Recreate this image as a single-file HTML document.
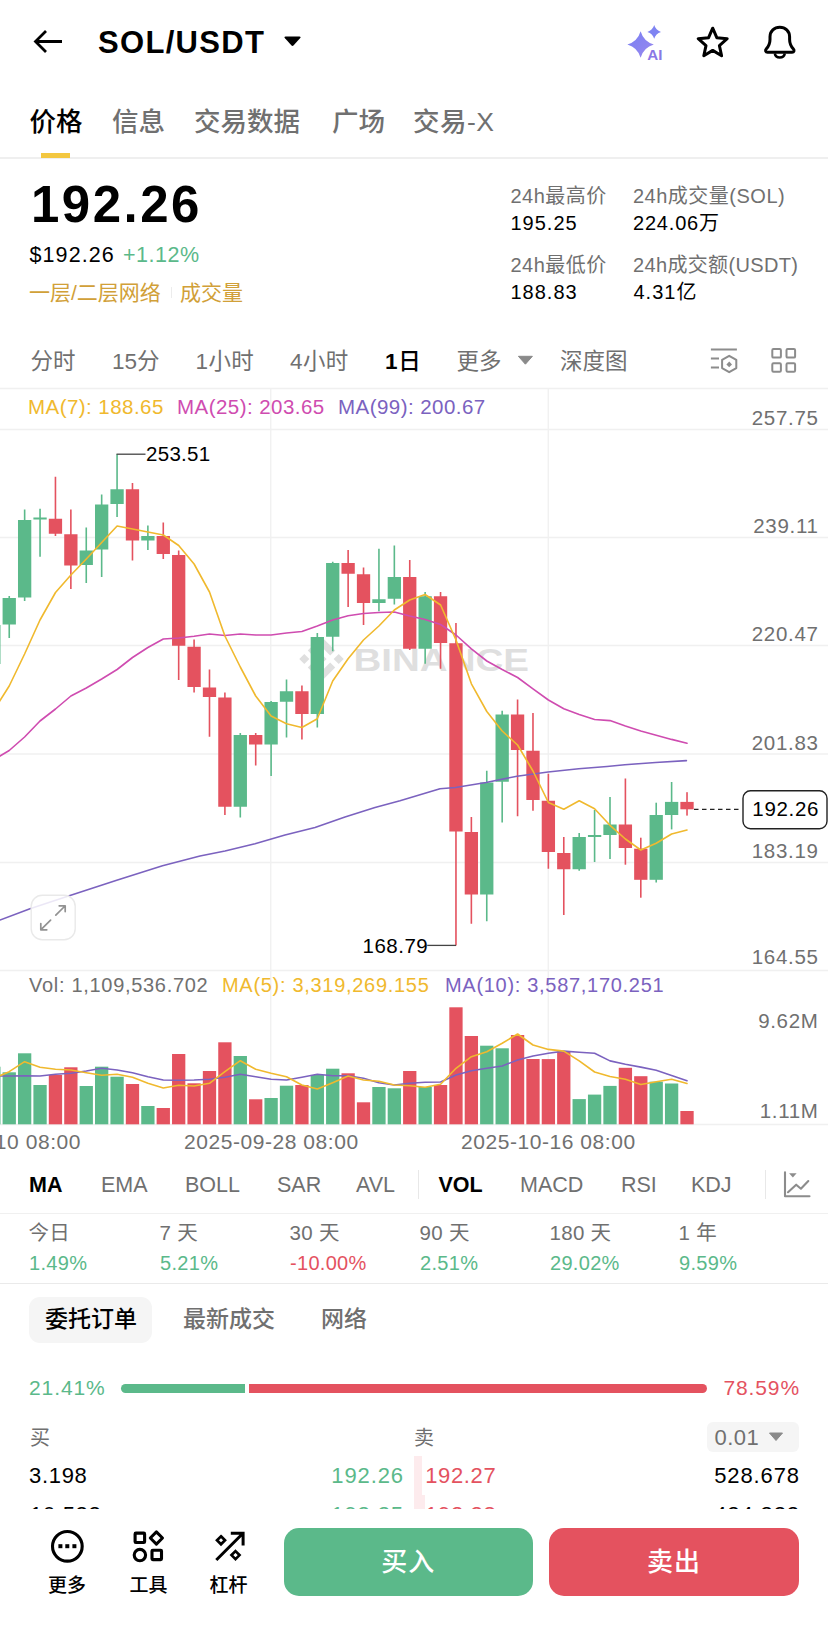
<!DOCTYPE html>
<html lang="zh-CN"><head><meta charset="utf-8"><title>SOL/USDT</title>
<style>
html,body{margin:0;padding:0;background:#fff;}
body{width:828px;height:1637px;position:relative;overflow:hidden;font-family:"Liberation Sans","Noto Sans CJK SC",sans-serif;}
.t{position:absolute;white-space:nowrap;line-height:1.2;}
.a{position:absolute;}
</style></head><body>
<div class="a" style="left:0;top:157px;width:828px;height:1.5px;background:#efefef"></div>
<div class="a" style="left:41px;top:152.5px;width:29px;height:5px;background:#f3c740"></div>
<div class="a" style="left:171px;top:287px;width:1.3px;height:11px;background:#ececec"></div>
<div class="a" style="left:29px;top:1296.5px;width:122.5px;height:46px;border-radius:11px;background:#f5f5f5"></div>
<div class="a" style="left:706.5px;top:1421.5px;width:92.5px;height:30px;border-radius:6px;background:#f5f5f5"></div>
<div class="a" style="left:0;top:1212.6px;width:828px;height:1.4px;background:#f0f0f0"></div>
<div class="a" style="left:0;top:1282.6px;width:828px;height:1.5px;background:#eaeaea"></div>
<div class="a" style="left:417.5px;top:1170px;width:1.3px;height:28.5px;background:#e8e8e8"></div>
<div class="a" style="left:764.5px;top:1170px;width:1.3px;height:28.5px;background:#e8e8e8"></div>
<div class="a" style="left:121px;top:1384px;width:124px;height:8.500px;border-radius:4.500px 0 0 4.500px;background:#5bb98a"></div>
<div class="a" style="left:249px;top:1384px;width:457.5px;height:8.500px;border-radius:0 4.500px 4.500px 0;background:#e4525f"></div>
<div class="a" style="left:414.3px;top:1456px;width:8px;height:38.5px;background:#fdebed"></div>
<div class="a" style="left:414.3px;top:1494.5px;width:10.5px;height:20px;background:#fdebed"></div>
<svg id="chart" width="828" height="1637" viewBox="0 0 828 1637" style="position:absolute;left:0;top:0"><line x1="0" x2="828" y1="388.5" y2="388.5" stroke="#f0f0f0" stroke-width="1.3"/><line x1="0" x2="828" y1="429.5" y2="429.5" stroke="#f0f0f0" stroke-width="1.3"/><line x1="0" x2="828" y1="537.5" y2="537.5" stroke="#f0f0f0" stroke-width="1.3"/><line x1="0" x2="828" y1="645.5" y2="645.5" stroke="#f0f0f0" stroke-width="1.3"/><line x1="0" x2="828" y1="754" y2="754" stroke="#f0f0f0" stroke-width="1.3"/><line x1="0" x2="828" y1="862.5" y2="862.5" stroke="#f0f0f0" stroke-width="1.3"/><line x1="0" x2="828" y1="970.5" y2="970.5" stroke="#f0f0f0" stroke-width="1.3"/><line x1="0" x2="828" y1="1124.5" y2="1124.5" stroke="#f0f0f0" stroke-width="1.3"/><line x1="270.75" x2="270.75" y1="388.5" y2="1124.5" stroke="#f0f0f0" stroke-width="1.3"/><line x1="548.25" x2="548.25" y1="388.5" y2="1124.5" stroke="#f0f0f0" stroke-width="1.3"/><g fill="#dfdfdf" id="wm"><g transform="translate(321.5,659) scale(0.357) translate(-63,-63)"><path d="M38.7,53.2 L63,28.9 L87.3,53.2 L101.4,39.1 L63,0.7 L24.6,39.1Z M0.7,63 L14.8,48.9 L28.9,63 L14.8,77.100Z M38.7,72.8 L63,97.100 L87.3,72.8 L101.4,86.9 L63,125.3 L24.6,86.9Z M97.100,63 L111.2,48.9 L125.3,63 L111.2,77.100Z M77.3,63 L63,48.7 L48.7,63 L63,77.3Z"/></g><text x="353.5" y="671" font-family="Liberation Sans, sans-serif" font-weight="700" font-size="31.500" textLength="175.500" lengthAdjust="spacingAndGlyphs">BINANCE</text></g><rect x="-6.96" y="600" width="1.6" height="70.00" fill="#5bb98a"/><rect x="-12.81" y="625" width="13.3" height="39.00" fill="#5bb98a"/><rect x="8.44" y="596" width="1.6" height="42.00" fill="#5bb98a"/><rect x="2.59" y="598" width="13.3" height="26.50" fill="#5bb98a"/><rect x="23.84" y="509.5" width="1.6" height="91.50" fill="#5bb98a"/><rect x="17.99" y="520" width="13.3" height="77.50" fill="#5bb98a"/><rect x="39.25" y="508.75" width="1.6" height="48.00" fill="#5bb98a"/><rect x="33.40" y="517.5" width="13.3" height="2.00" fill="#5bb98a"/><rect x="54.65" y="476.75" width="1.6" height="59.25" fill="#e4525f"/><rect x="48.80" y="518.75" width="13.3" height="15.00" fill="#e4525f"/><rect x="70.06" y="509.5" width="1.6" height="79.50" fill="#e4525f"/><rect x="64.21" y="534.25" width="13.3" height="31.25" fill="#e4525f"/><rect x="85.46" y="527.5" width="1.6" height="55.50" fill="#5bb98a"/><rect x="79.61" y="550.5" width="13.3" height="14.50" fill="#5bb98a"/><rect x="100.86" y="494.5" width="1.6" height="82.50" fill="#5bb98a"/><rect x="95.01" y="504.5" width="13.3" height="45.00" fill="#5bb98a"/><rect x="116.27" y="454.25" width="1.6" height="62.75" fill="#5bb98a"/><rect x="110.42" y="489.25" width="13.3" height="14.75" fill="#5bb98a"/><rect x="131.67" y="483" width="1.6" height="77.50" fill="#e4525f"/><rect x="125.82" y="489.25" width="13.3" height="51.25" fill="#e4525f"/><rect x="147.08" y="525.5" width="1.6" height="24.50" fill="#5bb98a"/><rect x="141.23" y="536" width="13.3" height="4.50" fill="#5bb98a"/><rect x="162.48" y="522.5" width="1.6" height="36.50" fill="#e4525f"/><rect x="156.63" y="536" width="13.3" height="18.00" fill="#e4525f"/><rect x="177.88" y="550.5" width="1.6" height="129.50" fill="#e4525f"/><rect x="172.03" y="555" width="13.3" height="90.75" fill="#e4525f"/><rect x="193.29" y="639.5" width="1.6" height="53.00" fill="#e4525f"/><rect x="187.44" y="646.75" width="13.3" height="40.25" fill="#e4525f"/><rect x="208.69" y="669.5" width="1.6" height="67.25" fill="#e4525f"/><rect x="202.84" y="687.5" width="13.3" height="9.50" fill="#e4525f"/><rect x="224.10" y="692.5" width="1.6" height="122.50" fill="#e4525f"/><rect x="218.25" y="697.5" width="13.3" height="109.25" fill="#e4525f"/><rect x="239.50" y="733" width="1.6" height="84.50" fill="#5bb98a"/><rect x="233.65" y="735" width="13.3" height="71.75" fill="#5bb98a"/><rect x="254.90" y="733" width="1.6" height="32.50" fill="#e4525f"/><rect x="249.05" y="735" width="13.3" height="9.50" fill="#e4525f"/><rect x="270.31" y="701" width="1.6" height="75.00" fill="#5bb98a"/><rect x="264.46" y="702" width="13.3" height="42.50" fill="#5bb98a"/><rect x="285.71" y="679.5" width="1.6" height="58.00" fill="#5bb98a"/><rect x="279.86" y="691.25" width="13.3" height="10.50" fill="#5bb98a"/><rect x="301.12" y="685.5" width="1.6" height="54.00" fill="#e4525f"/><rect x="295.27" y="691.25" width="13.3" height="22.75" fill="#e4525f"/><rect x="316.52" y="633" width="1.6" height="94.50" fill="#5bb98a"/><rect x="310.67" y="637" width="13.3" height="77.00" fill="#5bb98a"/><rect x="331.92" y="561.75" width="1.6" height="89.50" fill="#5bb98a"/><rect x="326.07" y="563" width="13.3" height="73.75" fill="#5bb98a"/><rect x="347.33" y="550" width="1.6" height="57.00" fill="#e4525f"/><rect x="341.48" y="563" width="13.3" height="10.75" fill="#e4525f"/><rect x="362.73" y="567.5" width="1.6" height="57.50" fill="#e4525f"/><rect x="356.88" y="574.25" width="13.3" height="28.75" fill="#e4525f"/><rect x="378.14" y="548.75" width="1.6" height="62.50" fill="#5bb98a"/><rect x="372.29" y="599.25" width="13.3" height="3.75" fill="#5bb98a"/><rect x="393.54" y="545.5" width="1.6" height="59.00" fill="#5bb98a"/><rect x="387.69" y="577" width="13.3" height="21.75" fill="#5bb98a"/><rect x="408.94" y="560" width="1.6" height="90.00" fill="#e4525f"/><rect x="403.09" y="577" width="13.3" height="71.75" fill="#e4525f"/><rect x="424.35" y="592" width="1.6" height="71.75" fill="#5bb98a"/><rect x="418.50" y="596.25" width="13.3" height="52.50" fill="#5bb98a"/><rect x="439.75" y="592" width="1.6" height="76.75" fill="#e4525f"/><rect x="433.90" y="596.25" width="13.3" height="46.75" fill="#e4525f"/><rect x="455.16" y="623" width="1.6" height="322.50" fill="#e4525f"/><rect x="449.31" y="643.25" width="13.3" height="188.25" fill="#e4525f"/><rect x="470.56" y="817" width="1.6" height="106.75" fill="#e4525f"/><rect x="464.71" y="832" width="13.3" height="62.50" fill="#e4525f"/><rect x="485.96" y="770.75" width="1.6" height="150.50" fill="#5bb98a"/><rect x="480.11" y="782.5" width="13.3" height="112.00" fill="#5bb98a"/><rect x="501.37" y="710.75" width="1.6" height="111.75" fill="#5bb98a"/><rect x="495.52" y="714.5" width="13.3" height="67.25" fill="#5bb98a"/><rect x="516.77" y="699.5" width="1.6" height="116.75" fill="#e4525f"/><rect x="510.92" y="714.5" width="13.3" height="35.50" fill="#e4525f"/><rect x="532.18" y="713" width="1.6" height="97.75" fill="#e4525f"/><rect x="526.33" y="750.75" width="13.3" height="49.25" fill="#e4525f"/><rect x="547.58" y="773.75" width="1.6" height="95.00" fill="#e4525f"/><rect x="541.73" y="800.75" width="13.3" height="51.25" fill="#e4525f"/><rect x="562.98" y="837" width="1.6" height="78.00" fill="#e4525f"/><rect x="557.13" y="853" width="13.3" height="16.25" fill="#e4525f"/><rect x="578.39" y="833" width="1.6" height="37.75" fill="#5bb98a"/><rect x="572.54" y="837" width="13.3" height="32.25" fill="#5bb98a"/><rect x="593.79" y="810" width="1.6" height="52.00" fill="#5bb98a"/><rect x="587.94" y="835" width="13.3" height="2.00" fill="#5bb98a"/><rect x="609.20" y="797" width="1.6" height="62.00" fill="#5bb98a"/><rect x="603.35" y="824.5" width="13.3" height="10.50" fill="#5bb98a"/><rect x="624.60" y="778.5" width="1.6" height="86.20" fill="#e4525f"/><rect x="618.75" y="824.5" width="13.3" height="23.50" fill="#e4525f"/><rect x="640.00" y="837.7" width="1.6" height="60.00" fill="#e4525f"/><rect x="634.15" y="848.7" width="13.3" height="31.10" fill="#e4525f"/><rect x="655.41" y="802.7" width="1.6" height="79.80" fill="#5bb98a"/><rect x="649.56" y="815" width="13.3" height="64.80" fill="#5bb98a"/><rect x="670.81" y="782" width="1.6" height="47.40" fill="#5bb98a"/><rect x="664.96" y="801.9" width="13.3" height="13.10" fill="#5bb98a"/><rect x="686.22" y="792.2" width="1.6" height="23.40" fill="#e4525f"/><rect x="680.37" y="801.9" width="13.3" height="7.40" fill="#e4525f"/><polyline points="-6.0,922.0 0.0,920.0 30.0,908.8 70.0,895.5 117.5,880.0 162.5,865.8 200.0,856.0 225.0,851.0 255.0,843.8 285.0,835.0 315.0,827.5 345.0,817.0 375.0,807.5 400.0,800.8 440.0,788.8 455.5,787.5 486.0,782.5 517.0,776.2 548.0,772.0 578.7,768.8 607.0,766.5 624.8,764.7 655.6,762.5 686.4,760.6" fill="none" stroke="#7b62bf" stroke-width="1.6" stroke-linejoin="round" stroke-linecap="round"/><polyline points="-6.1,760.0 0.0,756.0 9.2,750.5 24.6,737.0 40.0,721.0 55.5,709.0 70.9,696.0 86.3,688.0 101.7,679.0 117.1,669.5 132.5,657.5 147.9,647.5 163.3,639.0 178.7,638.0 194.1,636.2 209.5,634.0 224.9,635.5 240.3,634.0 255.7,635.0 271.1,635.0 286.5,633.0 301.9,631.5 317.3,626.0 332.7,620.0 348.1,615.8 363.5,613.5 378.9,612.5 394.3,612.0 409.7,616.0 425.1,619.5 440.6,624.5 456.0,635.0 471.4,648.8 486.8,661.0 502.2,669.5 517.6,677.5 533.0,688.8 548.4,700.0 563.8,708.8 579.2,714.5 594.6,719.5 610.0,720.6 625.4,726.0 640.8,731.0 656.2,735.2 671.6,739.4 687.0,743.2" fill="none" stroke="#cf4cb0" stroke-width="1.6" stroke-linejoin="round" stroke-linecap="round"/><polyline points="-6.1,713.0 0.0,700.5 9.2,686.0 24.6,654.0 40.0,620.0 55.5,592.5 70.9,575.0 86.3,559.0 101.7,542.5 117.1,526.0 132.5,529.0 147.9,532.0 163.3,535.0 178.7,545.5 194.1,564.0 209.5,592.0 224.9,636.0 240.3,667.0 255.7,696.0 271.1,716.0 286.5,723.8 301.9,727.5 317.3,718.8 332.7,681.0 348.1,658.8 363.5,640.0 378.9,626.0 394.3,610.0 409.7,600.0 425.1,594.5 440.6,605.0 456.0,640.0 471.4,683.8 486.8,711.5 502.2,731.0 517.6,745.0 533.0,771.0 548.4,802.5 563.8,809.2 579.2,800.8 594.6,808.8 610.0,825.3 625.4,839.0 640.8,850.0 656.2,843.2 671.6,834.0 687.0,830.0" fill="none" stroke="#f0b92e" stroke-width="1.6" stroke-linejoin="round" stroke-linecap="round"/><line x1="116.5" x2="145.5" y1="454.2" y2="454.2" stroke="#444" stroke-width="1.3"/><line x1="427.2" x2="456" y1="945.4" y2="945.4" stroke="#444" stroke-width="1.3"/><line x1="694" x2="742" y1="809.3" y2="809.3" stroke="#222" stroke-width="1.3" stroke-dasharray="4.5,3.5"/><rect x="743" y="790.8" width="84" height="38" rx="7.5" fill="#fff" stroke="#222" stroke-width="1.4"/><rect x="-12.81" y="1066.7" width="13.3" height="57.60" fill="#5bb98a"/><rect x="2.59" y="1072.3" width="13.3" height="52.00" fill="#5bb98a"/><rect x="17.99" y="1053.3" width="13.3" height="71.00" fill="#5bb98a"/><rect x="33.40" y="1085" width="13.3" height="39.30" fill="#5bb98a"/><rect x="48.80" y="1075" width="13.3" height="49.30" fill="#e4525f"/><rect x="64.21" y="1067.3" width="13.3" height="57.00" fill="#e4525f"/><rect x="79.61" y="1086" width="13.3" height="38.30" fill="#5bb98a"/><rect x="95.01" y="1066.7" width="13.3" height="57.60" fill="#5bb98a"/><rect x="110.42" y="1076.7" width="13.3" height="47.60" fill="#5bb98a"/><rect x="125.82" y="1084" width="13.3" height="40.30" fill="#e4525f"/><rect x="141.23" y="1106" width="13.3" height="18.30" fill="#5bb98a"/><rect x="156.63" y="1108" width="13.3" height="16.30" fill="#e4525f"/><rect x="172.03" y="1054" width="13.3" height="70.30" fill="#e4525f"/><rect x="187.44" y="1083.3" width="13.3" height="41.00" fill="#e4525f"/><rect x="202.84" y="1071" width="13.3" height="53.30" fill="#e4525f"/><rect x="218.25" y="1042.3" width="13.3" height="82.00" fill="#e4525f"/><rect x="233.65" y="1056" width="13.3" height="68.30" fill="#5bb98a"/><rect x="249.05" y="1099.3" width="13.3" height="25.00" fill="#e4525f"/><rect x="264.46" y="1098" width="13.3" height="26.30" fill="#5bb98a"/><rect x="279.86" y="1085.7" width="13.3" height="38.60" fill="#5bb98a"/><rect x="295.27" y="1085" width="13.3" height="39.30" fill="#e4525f"/><rect x="310.67" y="1075" width="13.3" height="49.30" fill="#5bb98a"/><rect x="326.07" y="1068.7" width="13.3" height="55.60" fill="#5bb98a"/><rect x="341.48" y="1073.3" width="13.3" height="51.00" fill="#e4525f"/><rect x="356.88" y="1102.3" width="13.3" height="22.00" fill="#e4525f"/><rect x="372.29" y="1087" width="13.3" height="37.30" fill="#5bb98a"/><rect x="387.69" y="1088.3" width="13.3" height="36.00" fill="#5bb98a"/><rect x="403.09" y="1071" width="13.3" height="53.30" fill="#e4525f"/><rect x="418.50" y="1087" width="13.3" height="37.30" fill="#5bb98a"/><rect x="433.90" y="1085" width="13.3" height="39.30" fill="#e4525f"/><rect x="449.31" y="1007.3" width="13.3" height="117.00" fill="#e4525f"/><rect x="464.71" y="1036" width="13.3" height="88.30" fill="#e4525f"/><rect x="480.11" y="1045.7" width="13.3" height="78.60" fill="#5bb98a"/><rect x="495.52" y="1048.3" width="13.3" height="76.00" fill="#5bb98a"/><rect x="510.92" y="1035" width="13.3" height="89.30" fill="#e4525f"/><rect x="526.33" y="1059" width="13.3" height="65.30" fill="#e4525f"/><rect x="541.73" y="1059.1" width="13.3" height="65.20" fill="#e4525f"/><rect x="557.13" y="1051.5" width="13.3" height="72.80" fill="#e4525f"/><rect x="572.54" y="1099.1" width="13.3" height="25.20" fill="#5bb98a"/><rect x="587.94" y="1094.6" width="13.3" height="29.70" fill="#5bb98a"/><rect x="603.35" y="1085.9" width="13.3" height="38.40" fill="#5bb98a"/><rect x="618.75" y="1067.8" width="13.3" height="56.50" fill="#e4525f"/><rect x="634.15" y="1076.2" width="13.3" height="48.10" fill="#e4525f"/><rect x="649.56" y="1081.7" width="13.3" height="42.60" fill="#5bb98a"/><rect x="664.96" y="1083.5" width="13.3" height="40.80" fill="#5bb98a"/><rect x="680.37" y="1111" width="13.3" height="13.30" fill="#e4525f"/><polyline points="-6.1,1076.0 0.0,1076.0 9.2,1076.0 24.6,1075.7 40.0,1076.0 55.5,1074.3 70.9,1073.3 86.3,1071.0 101.7,1068.3 117.1,1070.0 132.5,1072.7 147.9,1076.7 163.3,1080.0 178.7,1080.3 194.1,1080.0 209.5,1079.3 224.9,1077.3 240.3,1074.3 255.7,1076.7 271.1,1079.3 286.5,1080.0 301.9,1077.3 317.3,1074.3 332.7,1075.7 348.1,1075.7 363.5,1078.3 378.9,1082.7 394.3,1085.0 409.7,1083.3 425.1,1082.3 440.6,1082.0 456.0,1075.0 471.4,1070.7 486.8,1068.3 502.2,1066.0 517.6,1060.0 533.0,1056.0 548.4,1053.2 563.8,1051.1 579.2,1052.2 594.6,1053.2 610.0,1060.9 625.4,1064.3 640.8,1067.1 656.2,1070.3 671.6,1075.5 687.0,1080.7" fill="none" stroke="#7b62bf" stroke-width="1.6" stroke-linejoin="round" stroke-linecap="round"/><polyline points="-6.1,1077.0 0.0,1075.7 9.2,1071.7 24.6,1061.7 40.0,1067.3 55.5,1069.3 70.9,1070.0 86.3,1072.7 101.7,1075.3 117.1,1074.3 132.5,1077.3 147.9,1083.3 163.3,1088.0 178.7,1085.3 194.1,1086.0 209.5,1083.3 224.9,1071.7 240.3,1060.7 255.7,1069.3 271.1,1073.3 286.5,1076.7 301.9,1085.0 317.3,1089.0 332.7,1082.7 348.1,1076.0 363.5,1080.0 378.9,1081.3 394.3,1085.0 409.7,1085.7 425.1,1087.3 440.6,1084.3 456.0,1068.3 471.4,1056.7 486.8,1051.7 502.2,1043.3 517.6,1034.0 533.0,1045.0 548.4,1049.4 563.8,1051.1 579.2,1060.9 594.6,1072.0 610.0,1076.5 625.4,1079.3 640.8,1084.5 656.2,1081.7 671.6,1079.3 687.0,1083.5" fill="none" stroke="#f0b92e" stroke-width="1.6" stroke-linejoin="round" stroke-linecap="round"/><rect x="31.2" y="895.2" width="44" height="44.6" rx="11" fill="#fff" fill-opacity="0.85" stroke="#e9e9e9" stroke-width="1.4"/><g stroke="#929292" stroke-width="1.7" fill="none" stroke-linecap="round" stroke-linejoin="round"><path d="M55.8,915.2 L65,906 M59.200,905.800 H65.200 V911.600 M50.600,920.200 L41,929.600 M40.800,923.600 V929.800 H46.800"/></g></svg>
<svg class="a" style="left:0;top:0" width="828" height="1637" viewBox="0 0 828 1637">
<path d="M62,41.500 H35.500 M46,31 L35.500,41.500 L46,52" fill="none" stroke="#000" stroke-width="2.8" stroke-linecap="butt" stroke-linejoin="miter"/>
<path d="M285.500,36.500 H299.500 Q301.500,36.500 300,38.300 L293.700,45.300 Q292.500,46.500 291.300,45.300 L285,38.300 Q283.500,36.500 285.500,36.500Z" fill="#000"/>
<defs><linearGradient id="aig" x1="0" y1="0" x2="1" y2="1"><stop offset="0" stop-color="#7880f3"/><stop offset="1" stop-color="#9a88ee"/></linearGradient></defs>
<path d="M640.6,31.30 Q643.60,41.50 653.80,44.5 Q643.60,47.50 640.6,57.70 Q637.60,47.50 627.40,44.5 Q637.60,41.50 640.6,31.30Z" fill="url(#aig)"/>
<path d="M654.2,25.10 Q655.70,30.40 661.00,31.9 Q655.70,33.40 654.2,38.70 Q652.70,33.40 647.40,31.9 Q652.70,30.40 654.2,25.10Z" fill="#7f84f2"/>
<text x="647.3" y="59.5" font-family="Liberation Sans, sans-serif" font-weight="700" font-size="13.8" textLength="15.2" lengthAdjust="spacingAndGlyphs" fill="#8a78e6">AI</text>
<path d="M712.7,28.2 L716.8,37.7 L727.2,38.7 L719.4,45.6 L721.6,55.7 L712.7,50.4 L703.8,55.7 L706.0,45.6 L698.2,38.7 L708.6,37.7Z" fill="none" stroke="#000" stroke-width="3" stroke-linejoin="round"/>
<path d="M767.5,52.3 H792.1 C794,52.3 794.6,50.4 793.4,49.1 C790.6,46 789.6,43.3 789.6,39.5 V36.8 C789.6,31 785.3,27.2 779.8,27.2 C774.3,27.2 770,31 770,36.8 V39.5 C770,43.3 769,46 766.2,49.1 C765,50.4 765.6,52.3 767.5,52.3Z" fill="none" stroke="#000" stroke-width="3" stroke-linejoin="round"/>
<path d="M774.8,53.5 C775.3,56.5 777.3,57.6 779.8,57.6 C782.3,57.6 784.3,56.5 784.8,53.5" fill="none" stroke="#000" stroke-width="2.5"/>
<path d="M518.4,356.3 H532.4 L525.4,364.2Z" fill="#8a8a8a" stroke="#8a8a8a" stroke-width="1" stroke-linejoin="round"/>
<g fill="none" stroke="#8c8c8c" stroke-width="2"><path d="M710.9,349.6 H736.9 M710.9,358.6 H719 M710.9,367.6 H719"/><path d="M729.2,355.8 L736.3,359.9 L736.3,368.1 L729.2,372.2 L722.1,368.1 L722.1,359.9Z" stroke-linejoin="round"/></g><path d="M729.2,361.6 L732,364.4 L729.2,367.2 L726.4,364.4Z" fill="#8c8c8c"/>
<rect x="772.3" y="349" width="8.6" height="8.6" rx="1.2" fill="none" stroke="#8c8c8c" stroke-width="2"/>
<rect x="786.5" y="349" width="8.6" height="8.6" rx="1.2" fill="none" stroke="#8c8c8c" stroke-width="2"/>
<rect x="772.3" y="363.2" width="8.6" height="8.6" rx="1.2" fill="none" stroke="#8c8c8c" stroke-width="2"/>
<rect x="786.5" y="363.2" width="8.6" height="8.6" rx="1.2" fill="none" stroke="#8c8c8c" stroke-width="2"/>
<g fill="none" stroke="#8c8c8c" stroke-width="2.1" stroke-linejoin="round" stroke-linecap="round"><path d="M785,1172.3 V1196.3 H809.5"/><path d="M788,1192.2 L796.2,1184.7 L800.9,1188.7 L808.3,1181"/></g><path d="M789.1,1173.2 H796.6 L792.85,1177.5Z" fill="#8c8c8c"/>
<path d="M769.500,1433 H782.500 L776,1440.500Z" fill="#8a8a8a" stroke="#8a8a8a" stroke-width="1" stroke-linejoin="round"/>
</svg>
<div class="t" id="title" style="left:98px;top:24px;font-size:31px;color:#000;font-weight:700;letter-spacing:1.3px;">SOL/USDT</div>
<div class="t" id="tab1" style="left:29.5px;top:106.5px;font-size:26.5px;color:#000;font-weight:500;">价格</div>
<div class="t" id="tab2" style="left:112px;top:106.5px;font-size:26.5px;color:#707070;font-weight:500;">信息</div>
<div class="t" id="tab3" style="left:194px;top:106.5px;font-size:26.5px;color:#707070;font-weight:500;">交易数据</div>
<div class="t" id="tab4" style="left:332px;top:106.5px;font-size:26.5px;color:#707070;font-weight:500;">广场</div>
<div class="t" id="tab5" style="left:413px;top:106.5px;font-size:26.5px;color:#707070;font-weight:500;letter-spacing:0.5px;">交易-X</div>
<div class="t" id="price" style="left:31px;top:173.5px;font-size:51px;color:#000;font-weight:700;letter-spacing:2.5px;">192.26</div>
<div class="t" id="usd" style="left:29.5px;top:242.5px;font-size:21.5px;color:#000;letter-spacing:1.1px;">$192.26</div>
<div class="t" id="chg" style="left:123px;top:242.5px;font-size:21.5px;color:#5bb98a;letter-spacing:0.5px;">+1.12%</div>
<div class="t" id="tag1" style="left:29px;top:280px;font-size:21px;color:#d1a038;">一层/二层网络</div>
<div class="t" id="tag2" style="left:180px;top:280px;font-size:21px;color:#d1a038;">成交量</div>
<div class="t" id="s1l" style="left:510.5px;top:184px;font-size:20px;color:#707070;letter-spacing:0.5px;">24h最高价</div>
<div class="t" id="s1v" style="left:510.5px;top:211px;font-size:20px;color:#000;letter-spacing:1px;">195.25</div>
<div class="t" id="s2l" style="left:633px;top:184px;font-size:20px;color:#707070;letter-spacing:0.5px;">24h成交量(SOL)</div>
<div class="t" id="s2v" style="left:633px;top:211px;font-size:20px;color:#000;letter-spacing:0.8px;">224.06万</div>
<div class="t" id="s3l" style="left:510.5px;top:253px;font-size:20px;color:#707070;letter-spacing:0.5px;">24h最低价</div>
<div class="t" id="s3v" style="left:510.5px;top:280px;font-size:20px;color:#000;letter-spacing:1px;">188.83</div>
<div class="t" id="s4l" style="left:633px;top:253px;font-size:20px;color:#707070;letter-spacing:0.35px;">24h成交额(USDT)</div>
<div class="t" id="s4v" style="left:633.5px;top:280px;font-size:20px;color:#000;letter-spacing:1px;">4.31亿</div>
<div class="t" id="i1" style="left:30.5px;top:348px;font-size:22.5px;color:#707070;">分时</div>
<div class="t" id="i2" style="left:112px;top:348px;font-size:22.5px;color:#707070;">15分</div>
<div class="t" id="i3" style="left:195.5px;top:348px;font-size:22.5px;color:#707070;letter-spacing:0.4px;">1小时</div>
<div class="t" id="i4" style="left:290px;top:348px;font-size:22.5px;color:#707070;letter-spacing:0.4px;">4小时</div>
<div class="t" id="i5" style="left:385px;top:348px;font-size:22.5px;color:#000;font-weight:500;letter-spacing:0.8px;"><b>1</b>日</div>
<div class="t" id="i6" style="left:456.5px;top:348px;font-size:22.5px;color:#707070;">更多</div>
<div class="t" id="i7" style="left:560px;top:348px;font-size:22.5px;color:#707070;">深度图</div>
<div class="t" id="m1" style="left:28px;top:394.5px;font-size:20.5px;color:#f0b92e;letter-spacing:0.45px;">MA(7): 188.65</div>
<div class="t" id="m2" style="left:177px;top:394.5px;font-size:20.5px;color:#cf4cb0;letter-spacing:0.45px;">MA(25): 203.65</div>
<div class="t" id="m3" style="left:338px;top:394.5px;font-size:20.5px;color:#7b62bf;letter-spacing:0.45px;">MA(99): 200.67</div>
<div class="t" id="ax0" style="right:9.399999999999977px;top:405.59999999999997px;font-size:20.5px;color:#707070;letter-spacing:0.7px;">257.75</div>
<div class="t" id="ax1" style="right:9.399999999999977px;top:513.9000000000001px;font-size:20.5px;color:#707070;letter-spacing:0.7px;">239.11</div>
<div class="t" id="ax2" style="right:9.399999999999977px;top:622.3000000000001px;font-size:20.5px;color:#707070;letter-spacing:0.7px;">220.47</div>
<div class="t" id="ax3" style="right:9.399999999999977px;top:730.6px;font-size:20.5px;color:#707070;letter-spacing:0.7px;">201.83</div>
<div class="t" id="ax4" style="right:9.399999999999977px;top:838.9000000000001px;font-size:20.5px;color:#707070;letter-spacing:0.7px;">183.19</div>
<div class="t" id="ax5" style="right:9.399999999999977px;top:944.8000000000001px;font-size:20.5px;color:#707070;letter-spacing:0.7px;">164.55</div>
<div class="t" id="cur" style="right:8.799999999999955px;top:796.8px;font-size:20.5px;color:#000;letter-spacing:0.7px;">192.26</div>
<div class="t" id="hi" style="left:146px;top:442.2px;font-size:20.5px;color:#000;letter-spacing:0.3px;">253.51</div>
<div class="t" id="lo" style="left:362.5px;top:934px;font-size:20.5px;color:#000;letter-spacing:0.5px;">168.79</div>
<div class="t" id="v1" style="left:29px;top:973px;font-size:20px;color:#707070;letter-spacing:0.7px;">Vol: 1,109,536.702</div>
<div class="t" id="v2" style="left:222px;top:973px;font-size:20px;color:#f0b92e;letter-spacing:0.7px;">MA(5): 3,319,269.155</div>
<div class="t" id="v3" style="left:445px;top:973px;font-size:20px;color:#7b62bf;letter-spacing:0.7px;">MA(10): 3,587,170.251</div>
<div class="t" id="vx1" style="right:9.399999999999977px;top:1008.8px;font-size:20.5px;color:#707070;letter-spacing:0.7px;">9.62M</div>
<div class="t" id="vx2" style="right:9.399999999999977px;top:1099px;font-size:20.5px;color:#707070;letter-spacing:0.7px;">1.11M</div>
<div class="t" id="d1" style="right:747px;top:1129.2px;font-size:21px;color:#707070;letter-spacing:0.55px;">10 08:00</div>
<div class="t" id="d2" style="left:184px;top:1129.2px;font-size:21px;color:#707070;letter-spacing:0.55px;">2025-09-28 08:00</div>
<div class="t" id="d3" style="left:461px;top:1129.2px;font-size:21px;color:#707070;letter-spacing:0.55px;">2025-10-16 08:00</div>
<div class="t" id="n1" style="left:29px;top:1172.8px;font-size:21.5px;color:#000;font-weight:700;">MA</div>
<div class="t" id="n2" style="left:101px;top:1172.8px;font-size:21.5px;color:#707070;">EMA</div>
<div class="t" id="n3" style="left:185px;top:1172.8px;font-size:21.5px;color:#707070;">BOLL</div>
<div class="t" id="n4" style="left:277px;top:1172.8px;font-size:21.5px;color:#707070;">SAR</div>
<div class="t" id="n5" style="left:356px;top:1172.8px;font-size:21.5px;color:#707070;">AVL</div>
<div class="t" id="n6" style="left:438.5px;top:1172.8px;font-size:21.5px;color:#000;font-weight:700;">VOL</div>
<div class="t" id="n7" style="left:520px;top:1172.8px;font-size:21.5px;color:#707070;">MACD</div>
<div class="t" id="n8" style="left:621px;top:1172.8px;font-size:21.5px;color:#707070;">RSI</div>
<div class="t" id="n9" style="left:691px;top:1172.8px;font-size:21.5px;color:#707070;">KDJ</div>
<div class="t" id="pl0" style="left:28.5px;top:1220.8px;font-size:20.5px;color:#707070;letter-spacing:0.3px;">今日</div>
<div class="t" id="pv0" style="left:29px;top:1250.5px;font-size:20px;color:#5bb98a;letter-spacing:0.3px;">1.49%</div>
<div class="t" id="pl1" style="left:159.5px;top:1220.8px;font-size:20.5px;color:#707070;letter-spacing:0.3px;">7 天</div>
<div class="t" id="pv1" style="left:160px;top:1250.5px;font-size:20px;color:#5bb98a;letter-spacing:0.3px;">5.21%</div>
<div class="t" id="pl2" style="left:289.5px;top:1220.8px;font-size:20.5px;color:#707070;letter-spacing:0.3px;">30 天</div>
<div class="t" id="pv2" style="left:290px;top:1250.5px;font-size:20px;color:#e4525f;letter-spacing:0.3px;">-10.00%</div>
<div class="t" id="pl3" style="left:419.5px;top:1220.8px;font-size:20.5px;color:#707070;letter-spacing:0.3px;">90 天</div>
<div class="t" id="pv3" style="left:420px;top:1250.5px;font-size:20px;color:#5bb98a;letter-spacing:0.3px;">2.51%</div>
<div class="t" id="pl4" style="left:549.5px;top:1220.8px;font-size:20.5px;color:#707070;letter-spacing:0.3px;">180 天</div>
<div class="t" id="pv4" style="left:550px;top:1250.5px;font-size:20px;color:#5bb98a;letter-spacing:0.3px;">29.02%</div>
<div class="t" id="pl5" style="left:678.5px;top:1220.8px;font-size:20.5px;color:#707070;letter-spacing:0.3px;">1 年</div>
<div class="t" id="pv5" style="left:679px;top:1250.5px;font-size:20px;color:#5bb98a;letter-spacing:0.3px;">9.59%</div>
<div class="t" id="o1" style="left:45px;top:1306px;font-size:23px;color:#000;font-weight:500;">委托订单</div>
<div class="t" id="o2" style="left:183px;top:1306px;font-size:23px;color:#707070;font-weight:500;">最新成交</div>
<div class="t" id="o3" style="left:321px;top:1306px;font-size:23px;color:#707070;font-weight:500;">网络</div>
<div class="t" id="r1" style="left:29px;top:1375px;font-size:21px;color:#5bb98a;letter-spacing:0.9px;">21.41%</div>
<div class="t" id="r2" style="right:28px;top:1375px;font-size:21px;color:#e4525f;letter-spacing:0.9px;">78.59%</div>
<div class="t" id="b1" style="left:30px;top:1426px;font-size:20px;color:#707070;">买</div>
<div class="t" id="b2" style="left:414px;top:1426px;font-size:20px;color:#707070;">卖</div>
<div class="t" id="prec" style="left:714.5px;top:1425px;font-size:22px;color:#707070;letter-spacing:0.5px;">0.01</div>
<div class="t" id="q1" style="left:29px;top:1463px;font-size:22px;color:#000;letter-spacing:0.7px;">3.198</div>
<div class="t" id="q2" style="right:424px;top:1463px;font-size:22px;color:#5bb98a;letter-spacing:0.9px;">192.26</div>
<div class="t" id="q3" style="left:425.2px;top:1463px;font-size:22px;color:#e4525f;letter-spacing:0.65px;">192.27</div>
<div class="t" id="q4" style="right:28px;top:1463px;font-size:22px;color:#000;letter-spacing:0.9px;">528.678</div>
<div class="t" id="q5" style="left:30px;top:1501.5px;font-size:22px;color:#000;letter-spacing:0.7px;">10.522</div>
<div class="t" id="q6" style="right:424px;top:1501.5px;font-size:22px;color:#5bb98a;letter-spacing:0.9px;">192.25</div>
<div class="t" id="q7" style="left:425.2px;top:1501.5px;font-size:22px;color:#e4525f;letter-spacing:0.65px;">192.28</div>
<div class="t" id="q8" style="right:28px;top:1501.5px;font-size:22px;color:#000;letter-spacing:0.9px;">424.322</div>
<div class="a" style="left:0;top:1509px;width:828px;height:128px;background:#fff"></div>
<div class="a" style="left:283.500px;top:1527.500px;width:249.500px;height:68.500px;border-radius:15px;background:#5bb98a"></div>
<div class="a" style="left:549px;top:1527.500px;width:250px;height:68.500px;border-radius:15px;background:#e4525f"></div>
<svg class="a" style="left:0;top:1509px" width="280" height="128" viewBox="0 1509 280 128"><circle cx="67.35" cy="1546.3" r="14.85" fill="none" stroke="#000" stroke-width="3.1"/><rect x="58.4" y="1544.2" width="4" height="4" fill="#000"/><rect x="65.3" y="1544.2" width="4" height="4" fill="#000"/><rect x="72.4" y="1544.2" width="4" height="4" fill="#000"/><rect x="135.1" y="1533.1" width="9.5" height="9.4" rx="0.8" fill="none" stroke="#000" stroke-width="3.1"/><rect x="152" y="1550.3" width="9.5" height="9.3" rx="0.8" fill="none" stroke="#000" stroke-width="3.1"/><circle cx="139.9" cy="1555.1" r="5.7" fill="none" stroke="#000" stroke-width="3.1"/><path d="M156.4,1531.9 L162.5,1538 L156.4,1544.1 L150.3,1538Z" fill="none" stroke="#000" stroke-width="3" stroke-linejoin="round"/><path d="M216.3,1560 L243,1533.3 M230.8,1533.3 H243.1 V1545.5" fill="none" stroke="#000" stroke-width="3" stroke-linejoin="miter"/><path d="M221,1536.3 L225,1540.3 L221,1544.3 L217,1540.3Z" fill="none" stroke="#000" stroke-width="2.7" stroke-linejoin="miter"/><path d="M235.5,1551.1 L239.5,1555.1 L235.5,1559.1 L231.5,1555.1Z" fill="none" stroke="#000" stroke-width="2.7" stroke-linejoin="miter"/></svg>
<div class="t" id="bm1" style="left:48px;top:1574.5px;font-size:19px;color:#000;font-weight:500;">更多</div>
<div class="t" id="bm2" style="left:129.5px;top:1574.5px;font-size:19px;color:#000;font-weight:500;">工具</div>
<div class="t" id="bm3" style="left:209.5px;top:1574.5px;font-size:19px;color:#000;font-weight:500;">杠杆</div>
<div class="t" id="buy" style="left:283.5px;top:1547px;font-size:26px;color:#fff;font-weight:500;letter-spacing:1px;width:249.5px;text-align:center;">买入</div>
<div class="t" id="sell" style="left:549px;top:1547px;font-size:26px;color:#fff;font-weight:500;letter-spacing:1px;width:250px;text-align:center;">卖出</div>
</body></html>
